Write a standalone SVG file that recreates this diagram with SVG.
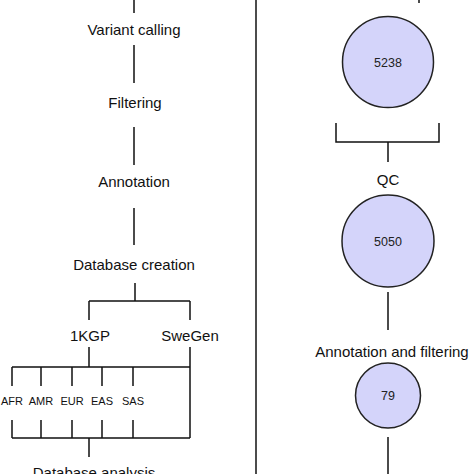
<svg xmlns="http://www.w3.org/2000/svg" width="474" height="474" viewBox="0 0 474 474">
<style>
.t{font-family:"Liberation Sans",Arial,sans-serif;font-size:15px;fill:#111;text-anchor:middle}
.s{font-family:"Liberation Sans",Arial,sans-serif;font-size:11px;fill:#111;text-anchor:middle}
.n{font-family:"Liberation Sans",Arial,sans-serif;font-size:12.5px;fill:#222;text-anchor:middle}
.l{stroke:#111;stroke-width:1.5;fill:none}
.c{fill:#d4d4fa;stroke:#222;stroke-width:1.5}
</style>
<rect width="474" height="474" fill="#fff"/>
<g id="connectors">
<path class="l" d="M134 0V13M134 45V83M134 127V165M134 208V245M135 283V301M89 301H190M89 301V320M190 301V320"/>
<path class="l" d="M89 347V367M190 347V438M12 367H190M12 367V386M41 367V386M72 367V386M102 367V386M133 367V386"/>
<path class="l" d="M12 420V438M41 420V438M72 420V438M102 420V438M133 420V438M12 438H190M89 438V457"/>
<path class="l" d="M256 0V474"/>
<path class="l" d="M419 0V3"/>
<path class="l" d="M336 123V142H439V123M388 142V162M388 292V330M388 437V474"/>
</g>
<g id="variant-calling"><text class="t" x="134" y="35">Variant calling</text></g>
<g id="filtering"><text class="t" x="135" y="108">Filtering</text></g>
<g id="annotation"><text class="t" x="134" y="187">Annotation</text></g>
<g id="database-creation"><text class="t" x="134" y="270">Database creation</text></g>
<g id="kgp"><text class="t" x="90" y="341">1KGP</text></g>
<g id="swegen"><text class="t" x="190" y="341">SweGen</text></g>
<g id="afr"><text class="s" x="12" y="405">AFR</text></g>
<g id="amr"><text class="s" x="41" y="405">AMR</text></g>
<g id="eur"><text class="s" x="72" y="405">EUR</text></g>
<g id="eas"><text class="s" x="102" y="405">EAS</text></g>
<g id="sas"><text class="s" x="133" y="405">SAS</text></g>
<g id="database-analysis"><text class="t" x="94" y="478">Database analysis</text></g>
<g id="c5238"><circle class="c" cx="388" cy="62" r="45.5"/><text class="n" x="388" y="66.5">5238</text></g>
<g id="qc"><text class="t" x="388" y="185">QC</text></g>
<g id="c5050"><circle class="c" cx="388" cy="241" r="46"/><text class="n" x="388" y="245.5">5050</text></g>
<g id="annotation-filtering"><text class="t" x="392" y="357">Annotation and filtering</text></g>
<g id="c79"><circle class="c" cx="388" cy="395.5" r="32.5"/><text class="n" x="388" y="400">79</text></g>
</svg>
